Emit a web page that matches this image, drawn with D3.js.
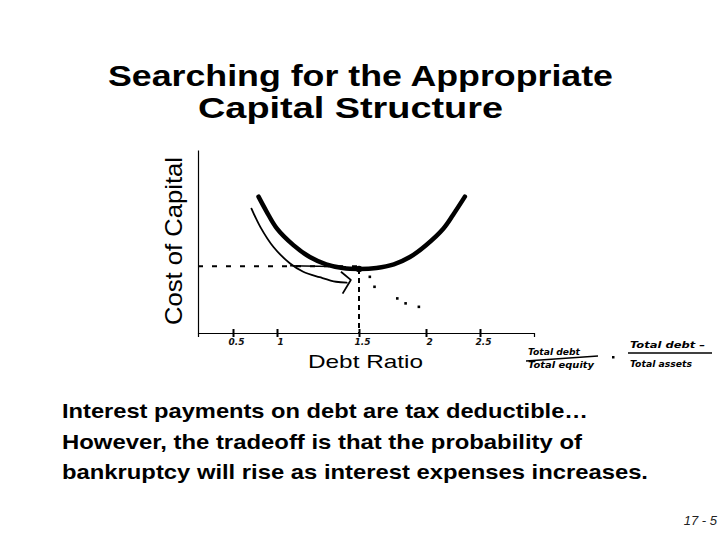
<!DOCTYPE html>
<html>
<head>
<meta charset="utf-8">
<script src="https://cdn.jsdelivr.net/npm/d3@7"></script>
<style>
  html, body { margin: 0; padding: 0; background: #ffffff; }
  svg { display: block; }
</style>
</head>
<body>
<script>
// ---------- data ----------
const titleLines = ["Searching for the Appropriate", "Capital Structure"];
const yAxisTitle = "Cost of Capital";
const xAxisTitle = "Debt Ratio";
const bodyLines = [
  "Interest payments on debt are tax deductible…",
  "However, the tradeoff is that the probability of",
  "bankruptcy will rise as interest expenses increases."
];
const slideNumber = "17 - 5";

// hand-written tick marks on the debt-ratio axis
const tickValues = [0.5, 1, 1.5, 2, 2.5];
const tickLabels = ["0.5", "1", "1.5", "2", "2.5"];

// cost-of-capital curve (U-shape)
const debtRatio     = [0.79, 0.88, 1.00, 1.10, 1.20, 1.30, 1.40, 1.50, 1.63, 1.76, 1.88, 2.00, 2.16, 2.25, 2.36];
const costOfCapital = [14.9, 13.3, 11.4, 9.6,  8.3,  7.5,  7.1,  7.0,  7.1,  7.5,  8.3,  9.6,  11.4, 12.9, 14.9];

// optimum
const optimalDebt = 1.5;
const minimumCost = 7.0;

// hand-drawn arrow sliding down the curve
const arrowDebt = [0.71, 0.81, 0.96, 1.08, 1.16, 1.26, 1.36, 1.425];
const arrowCost = [13.6, 11.6, 9.4, 7.6, 6.7, 6.1, 5.6, 5.5];
const arrowHeadDebt = [1.39, 1.45, 1.40];
const arrowHeadCost = [6.7, 5.8, 4.3];

// hand-drawn dots
const dotDebt = [1.58, 1.615, 1.785, 1.847, 1.946, 2.27];
const dotCost = [6.15, 5.06, 3.79, 3.25, 2.87, 13.4];

// hand-written ratio notes
const noteNumerators   = ["Total debt", "Total debt –"];
const noteDenominators = ["Total equity", "Total assets"];

// ---------- drawing ----------
const W = 720, H = 540;
const svg = d3.select("body").append("svg")
  .attr("width", W).attr("height", H)
  .style("background", "#ffffff");

svg.append("rect").attr("width", W).attr("height", H).attr("fill", "#ffffff");

const SANS = "'Liberation Sans', Arial, Helvetica, sans-serif";

// title
const titleSpecs = [
  { x: 108, y: 86, len: 505 },
  { x: 198, y: 118, len: 305 }
];
titleLines.forEach((t, i) => {
  svg.append("text")
    .attr("x", titleSpecs[i].x).attr("y", titleSpecs[i].y)
    .attr("textLength", titleSpecs[i].len)
    .attr("lengthAdjust", "spacingAndGlyphs")
    .attr("font-family", SANS).attr("font-weight", "bold")
    .attr("font-size", 30).attr("fill", "#000")
    .text(t);
});

// scales (hand-drawn ticks are irregularly spaced -> piecewise linear)
const x = d3.scaleLinear()
  .domain([0.1, 0.5, 1, 1.5, 2, 2.5, 3.0])
  .range([198, 233, 277, 359, 426, 480, 534]);
const y = d3.scaleLinear().domain([0, 20]).range([333, 150]);

// axes
const xAxis = svg.append("g")
  .attr("transform", `translate(0,${y(0)})`)
  .call(d3.axisBottom(x).tickValues(tickValues)
    .tickFormat((d, i) => tickLabels[i])
    .tickSizeOuter(0).tickSize(4).tickPadding(2));
xAxis.select(".domain").attr("stroke", "#000").attr("stroke-width", 1.2);
xAxis.selectAll(".tick line").attr("y1", -4).attr("y2", 4)
  .attr("stroke", "#000").attr("stroke-width", 2);
xAxis.selectAll(".tick text")
  .attr("dx", 3)
  .attr("font-family", "'DejaVu Sans', sans-serif")
  .attr("font-style", "italic").attr("font-weight", "bold")
  .attr("font-size", 9).attr("fill", "#111");

const yAxis = svg.append("g")
  .attr("transform", `translate(${x(0.1)},0)`)
  .call(d3.axisLeft(y).tickValues([]).tickSizeOuter(0));
yAxis.select(".domain").attr("stroke", "#000").attr("stroke-width", 1.2);

// axis titles
svg.append("text")
  .attr("transform", `translate(182,${(157 + 325) / 2}) rotate(-90)`)
  .attr("text-anchor", "middle")
  .attr("textLength", 168).attr("lengthAdjust", "spacingAndGlyphs")
  .attr("font-family", SANS).attr("font-size", 24).attr("fill", "#000")
  .text(yAxisTitle);

svg.append("text")
  .attr("x", 308).attr("y", 368)
  .attr("textLength", 115).attr("lengthAdjust", "spacingAndGlyphs")
  .attr("font-family", SANS).attr("font-size", 19).attr("fill", "#000")
  .text(xAxisTitle);

// reference dashed lines to the optimum
svg.append("line")
  .attr("x1", x(0.1)).attr("x2", x(optimalDebt))
  .attr("y1", y(minimumCost + 0.3)).attr("y2", y(minimumCost + 0.3))
  .attr("stroke", "#000").attr("stroke-width", 2)
  .attr("stroke-dasharray", "5,9");
svg.append("line")
  .attr("x1", x(1.08)).attr("x2", x(1.42))
  .attr("y1", y(minimumCost + 0.35)).attr("y2", y(minimumCost + 0.25))
  .attr("stroke", "#000").attr("stroke-width", 1.5);
svg.append("line")
  .attr("x1", x(optimalDebt)).attr("x2", x(optimalDebt))
  .attr("y1", y(minimumCost)).attr("y2", y(0))
  .attr("stroke", "#000").attr("stroke-width", 2)
  .attr("stroke-dasharray", "5,4");

// the cost of capital curve
const line = d3.line().x(d => x(d[0])).y(d => y(d[1])).curve(d3.curveCatmullRom);
svg.append("path")
  .datum(debtRatio.map((d, i) => [d, costOfCapital[i]]))
  .attr("d", line)
  .attr("fill", "none").attr("stroke", "#000")
  .attr("stroke-width", 4.5).attr("stroke-linecap", "round");

// optimum point
svg.append("circle")
  .attr("cx", x(optimalDebt)).attr("cy", y(minimumCost))
  .attr("r", 3.2).attr("fill", "#000");

// hand-drawn arrow
svg.append("path")
  .datum(arrowDebt.map((d, i) => [d, arrowCost[i]]))
  .attr("d", line)
  .attr("fill", "none").attr("stroke", "#000")
  .attr("stroke-width", 1.8).attr("stroke-linecap", "round");
svg.append("path")
  .datum(arrowHeadDebt.map((d, i) => [d, arrowHeadCost[i]]))
  .attr("d", d3.line().x(d => x(d[0])).y(d => y(d[1])))
  .attr("fill", "none").attr("stroke", "#000")
  .attr("stroke-width", 1.8).attr("stroke-linejoin", "round");

// hand-drawn dots
svg.selectAll("rect.dot")
  .data(dotDebt.map((d, i) => [d, dotCost[i]]))
  .enter().append("rect").attr("class", "dot")
  .attr("x", d => x(d[0]) - 1.2).attr("y", d => y(d[1]) - 1.2)
  .attr("width", 2.6).attr("height", 2.6).attr("fill", "#000");

// hand-written ratio notes
const noteSpecs = [
  { x: 528, w: 70, numY: 355, barY: 358, denY: 368, numW: 52, denW: 66 },
  { x: 630, w: 82, numY: 348, barY: 353, denY: 367, numW: 75, denW: 62 }
];
noteSpecs.forEach((s, i) => {
  svg.append("text")
    .attr("x", s.x).attr("y", s.numY)
    .attr("textLength", s.numW).attr("lengthAdjust", "spacingAndGlyphs")
    .attr("font-family", "'DejaVu Sans', sans-serif").attr("font-style", "italic")
    .attr("font-weight", "bold").attr("font-size", 9).attr("fill", "#000")
    .text(noteNumerators[i]);
  svg.append("line")
    .attr("x1", s.x - 2).attr("x2", s.x + s.w)
    .attr("y1", s.barY + (i === 0 ? 3 : 0)).attr("y2", s.barY - (i === 0 ? 2 : 0))
    .attr("stroke", "#000").attr("stroke-width", 1.5);
  svg.append("text")
    .attr("x", s.x).attr("y", s.denY)
    .attr("textLength", s.denW).attr("lengthAdjust", "spacingAndGlyphs")
    .attr("font-family", "'DejaVu Sans', sans-serif").attr("font-style", "italic")
    .attr("font-weight", "bold").attr("font-size", 9).attr("fill", "#000")
    .text(noteDenominators[i]);
});
svg.append("rect").attr("x", 612).attr("y", 356).attr("width", 2.5).attr("height", 2.5).attr("fill", "#000");

// body text
const bodySpecs = [
  { y: 418, len: 526 },
  { y: 449, len: 520 },
  { y: 479, len: 586 }
];
bodyLines.forEach((t, i) => {
  svg.append("text")
    .attr("x", 62).attr("y", bodySpecs[i].y)
    .attr("textLength", bodySpecs[i].len).attr("lengthAdjust", "spacingAndGlyphs")
    .attr("font-family", SANS).attr("font-weight", "bold")
    .attr("font-size", 21).attr("fill", "#000")
    .text(t);
});

// slide number
svg.append("text")
  .attr("x", 717).attr("y", 525).attr("text-anchor", "end")
  .attr("font-family", SANS).attr("font-style", "italic")
  .attr("font-size", 13).attr("fill", "#222")
  .text(slideNumber);
</script>
</body>
</html>
